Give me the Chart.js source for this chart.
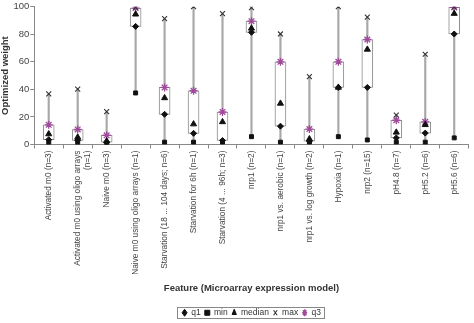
<!DOCTYPE html>
<html>
<head>
<meta charset="utf-8">
<script src="https://cdn.jsdelivr.net/npm/chart.js@4/dist/chart.umd.min.js"></script>
<style>
  html, body { margin: 0; padding: 0; background: #fff; }
  #wrap { width: 474px; height: 323px; }
</style>
</head>
<body>
<div id="wrap"><canvas id="chart"></canvas></div>
<script>
// feature labels (multi-line where the original wraps)
const features = [
    'Activated m0 (n=3)',
    ['Activated m0 using oligo arrays', '(n=1)'],
    'Naive m0 (n=3)',
    'Naive m0 using oligo arrays (n=1)',
    'Starvation (18 ... 104 days; n=6)',
    'Starvation for 6h (n=1)',
    'Starvation (4 ... 96h; n=3)',
    'nrp1 (n=2)',
    'nrp1 vs. aerobic (n=1)',
    'nrp1 vs. log growth (n=2)',
    'Hypoxia (n=1)',
    'nrp2 (n=15)',
    'pH4.8 (n=7)',
    'pH5.2 (n=6)',
    'pH5.6 (n=6)'
];

const minVals    = [1.5, 1.5, 1.0, 37.4, 1.7, 1.7, 1.7, 5.7, 1.7, 1.7, 5.7, 3.3, 1.7, 1.7, 4.8];
const q1Vals     = [3.5, 3.0, 1.7, 85.7, 21.9, 8.1, 2.9, 81.4, 13.3, 2.5, 41.4, 41.4, 4.8, 8.3, 80.2];
const medianVals = [7.6, 5.2, 2.5, 94.5, 33.8, 14.8, 16.4, 84.3, 29.8, 4.0, 41.4, 69.0, 8.8, 14.3, 95.0];
const q3Vals     = [14.3, 10.9, 6.7, 99.0, 41.4, 39.0, 23.6, 89.5, 60.0, 11.2, 60.0, 76.2, 17.6, 16.4, 99.5];
const maxVals    = [36.7, 40.2, 23.8, 99.5, 91.4, 100, 95.0, 99.3, 80.2, 49.3, 100, 92.4, 21.4, 65.5, 99.8];

const yTicks = [0, 10, 20, 30, 40, 50, 60, 70, 80, 90, 100];

const boxRanges = q1Vals.map((v, i) => [v, q3Vals[i]]);
const whiskerRanges = minVals.map((v, i) => [v, maxVals[i]]);

const family = "'Liberation Sans', Arial, sans-serif";

function markers(label, data, style, radius, color, border) {
    return {
        type: 'line',
        label: label,
        data: data,
        showLine: false,
        pointStyle: style,
        pointRadius: radius,
        pointBackgroundColor: color,
        pointBorderColor: border || color,
        pointBorderWidth: 1,
        backgroundColor: color,
        borderColor: border || color
    };
}

// draws a thin frame round the legend items
const legendFrame = {
    id: 'legendFrame',
    afterDraw(chart) {
        const boxes = chart.legend && chart.legend.legendHitBoxes;
        if (!boxes || !boxes.length) return;
        let l = Infinity, r = -Infinity, t = Infinity, b = -Infinity;
        boxes.forEach(h => {
            l = Math.min(l, h.left); r = Math.max(r, h.left + h.width);
            t = Math.min(t, h.top); b = Math.max(b, h.top + h.height);
        });
        const mid = Math.round((t + b) / 2);
        const ctx = chart.ctx;
        ctx.save();
        ctx.strokeStyle = '#888';
        ctx.lineWidth = 1;
        ctx.strokeRect(Math.round(l) - 4.5, mid - 5.5, Math.round(r - l) + 8, 11);
        ctx.restore();
    }
};

const ctx = document.getElementById('chart').getContext('2d');

new Chart(ctx, {
    data: {
        labels: features,
        datasets: [
            markers('q1', q1Vals, 'rectRot', 3, '#111'),
            markers('min', minVals, 'rect', 2.8, '#111'),
            markers('median', medianVals, 'triangle', 3.5, '#111'),
            {
                ...markers('max', maxVals, 'crossRot', 3.5, '#333'),
                pointBorderWidth: 1.1
            },
            {
                ...markers('q3', q3Vals, 'star', 4, '#a04a9c'),
                pointBorderWidth: 1.3
            },
            {
                type: 'bar',
                label: 'box',
                data: boxRanges,
                backgroundColor: '#fff',
                borderColor: '#8a8a8a',
                borderWidth: 1,
                borderSkipped: false,
                barThickness: 11,
                grouped: false
            },
            {
                type: 'bar',
                label: 'whisker',
                data: whiskerRanges,
                backgroundColor: '#a8a8a8',
                borderWidth: 0,
                barThickness: 1.5,
                grouped: false
            }
        ]
    },
    options: {
        responsive: true,
        maintainAspectRatio: false,
        animation: false,
        // negative bottom pushes the legend block a bit lower
        layout: { padding: { top: 0, right: 0, left: 0, bottom: -4 } },
        scales: {
            x: {
                offset: true,
                // the long rotated labels need more than Chart.js' half-height cap
                afterFit(axis) { axis.height = 160; },
                grid: { offset: true, drawOnChartArea: false, color: '#888', tickLength: 4 },
                border: { color: '#888' },
                ticks: {
                    autoSkip: false,
                    maxRotation: 90,
                    minRotation: 90,
                    color: '#444',
                    font: { family: family, size: 8.3 },
                    padding: 2
                },
                title: {
                    display: true,
                    text: 'Feature (Microarray expression model)',
                    color: '#333',
                    font: { family: family, size: 9.5, weight: 'bold' },
                    padding: { top: 4, bottom: 10 }
                }
            },
            y: {
                min: 0,
                max: 100,
                afterBuildTicks(axis) {
                    axis.ticks = yTicks.map(v => ({ value: v }));
                },
                grid: { drawOnChartArea: false, color: '#888', tickLength: 4 },
                border: { color: '#888' },
                ticks: { color: '#444', font: { family: family, size: 9.5 }, padding: 1 },
                title: {
                    display: true,
                    text: 'Optimized weight',
                    color: '#333',
                    font: { family: family, size: 9.5, weight: 'bold' },
                    padding: { top: 0, bottom: 1 }
                }
            }
        },
        plugins: {
            legend: {
                position: 'bottom',
                fullSize: false,
                labels: {
                    usePointStyle: true,
                    pointStyleWidth: 5,
                    boxHeight: 5,
                    padding: 4,
                    color: '#333',
                    font: { family: family, size: 8.5 },
                    filter: item => item.text !== 'box' && item.text !== 'whisker'
                }
            },
            tooltip: { enabled: false }
        }
    },
    plugins: [legendFrame]
});
</script>
</body>
</html>
